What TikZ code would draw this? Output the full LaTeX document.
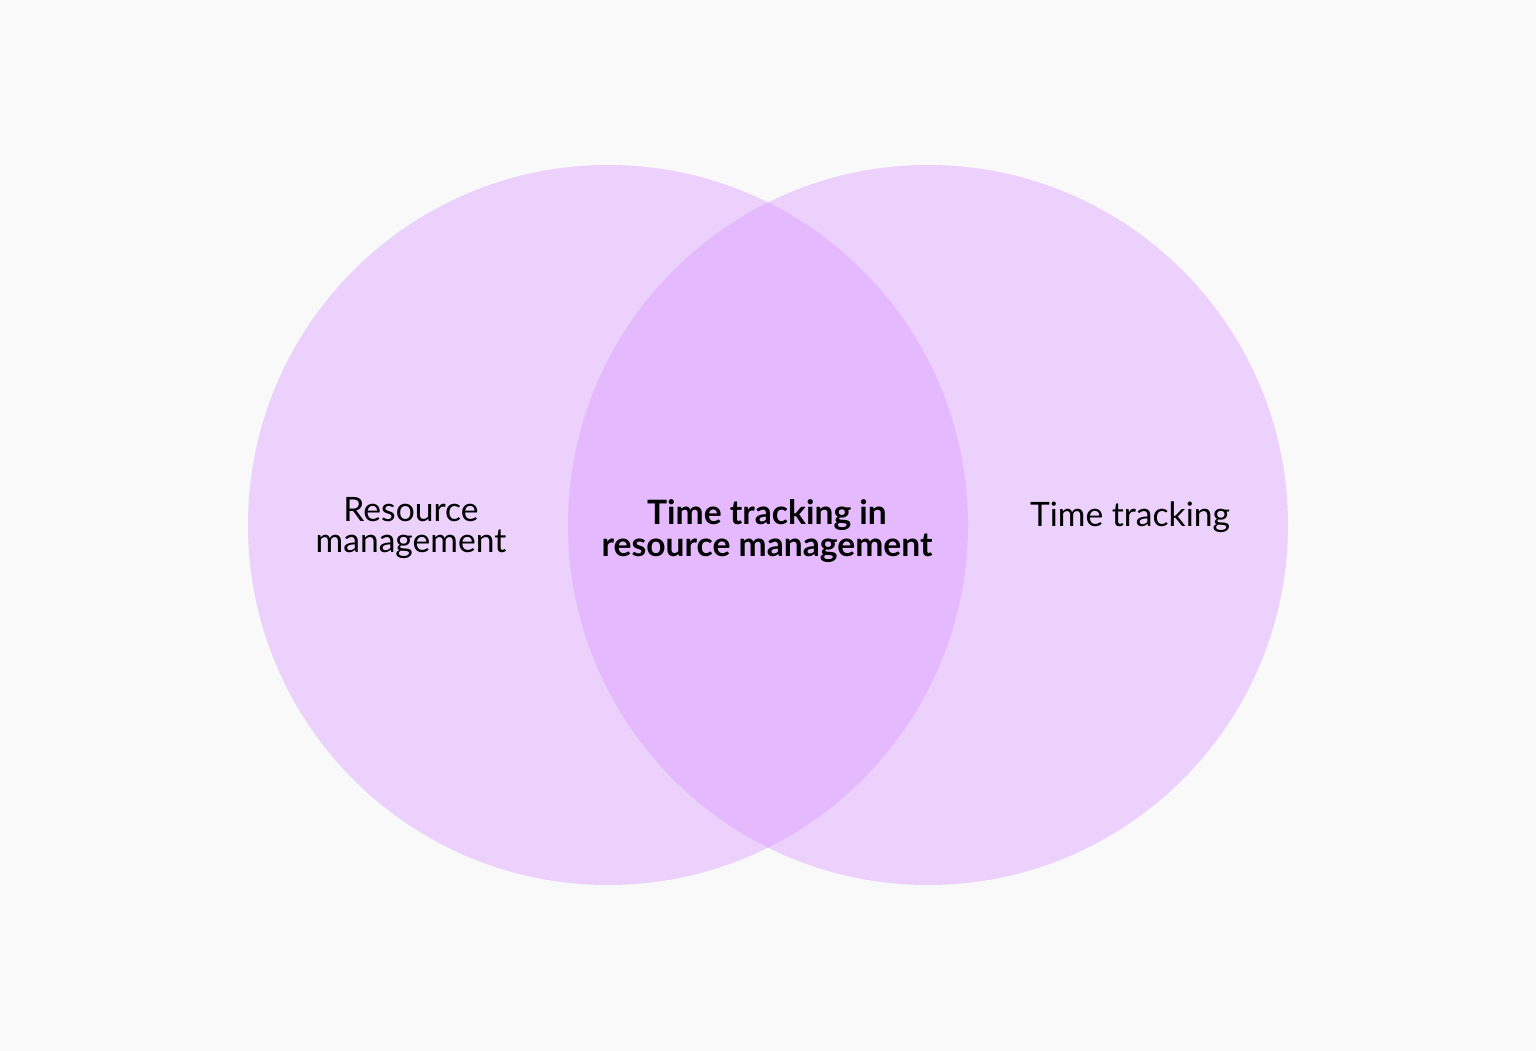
\documentclass[tikz,border=0pt]{standalone}
\usepackage{fontspec}
\setmainfont{Lato}
\begin{document}
\begin{tikzpicture}[x=1pt,y=-1pt,
  lbl/.style={align=center,inner sep=0pt,font=\fontsize{33.6}{31.5}\selectfont,text=black},
  lblb/.style={lbl,font=\fontsize{33.6}{31.5}\selectfont\bfseries}]
\definecolor{bg}{HTML}{F9F9F9}
\definecolor{circ}{HTML}{ECD1FD}
\definecolor{ovl}{HTML}{E4B9FD}
\fill[bg] (0,0) rectangle (1536,1051);
\useasboundingbox (0,0) rectangle (1536,1051);
\fill[circ] (608,525) circle (360);
\fill[circ] (928,525) circle (360);
\begin{scope}
\clip (608,525) circle (360);
\fill[ovl] (928,525) circle (360);
\end{scope}
\node[lbl] (rm) at (411,528) {Resource\\management};
\node[lblb] (tr) at (767,531) {Time tracking in\\resource management};
\node[lbl] (tt) at (1130,517) {Time tracking};
\end{tikzpicture}
\end{document}
